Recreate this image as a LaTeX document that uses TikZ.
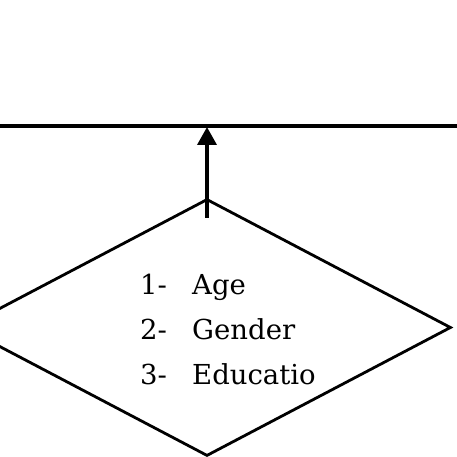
\documentclass[tikz,border=0pt]{standalone}
\usepackage{fontspec}
\setmainfont{DejaVu Serif}
\usetikzlibrary{shapes.geometric,arrows.meta}

\begin{document}
\begin{tikzpicture}[x=1pt,y=1pt]
    \useasboundingbox (0,0) rectangle (457,457);
    \clip (0,0) rectangle (457,457);
    % top bar
    \coordinate (barwest) at (-5,331);
    \coordinate (bareast) at (462,331);
    \draw[line width=3.2pt] (barwest) -- (bareast);

    % decision diamond
    \node[draw, diamond, line width=2.8pt, inner sep=0pt,
          minimum width=488pt, minimum height=257pt] (factors) at (207,129.5) {};

    % arrow up to the bar
    \coordinate (arrowstart) at (207,239);
    \coordinate (arrowend) at (207,330);
    \draw[-{Triangle[length=18pt,width=19pt]}, line width=3.6pt] (arrowstart) -- (arrowend);

    % list of factors
    \foreach \i/\w in {1/Age,2/Gender,3/Educatio}{
      \node[anchor=base west, inner sep=0pt, font=\fontsize{27.5}{32}\selectfont] (num\i) at (140,207-45*\i) {\i-};
      \node[anchor=base west, inner sep=0pt, font=\fontsize{27.5}{32}\selectfont] (item\i) at (192,207-45*\i) {\w};
    }
\end{tikzpicture}
\end{document}
